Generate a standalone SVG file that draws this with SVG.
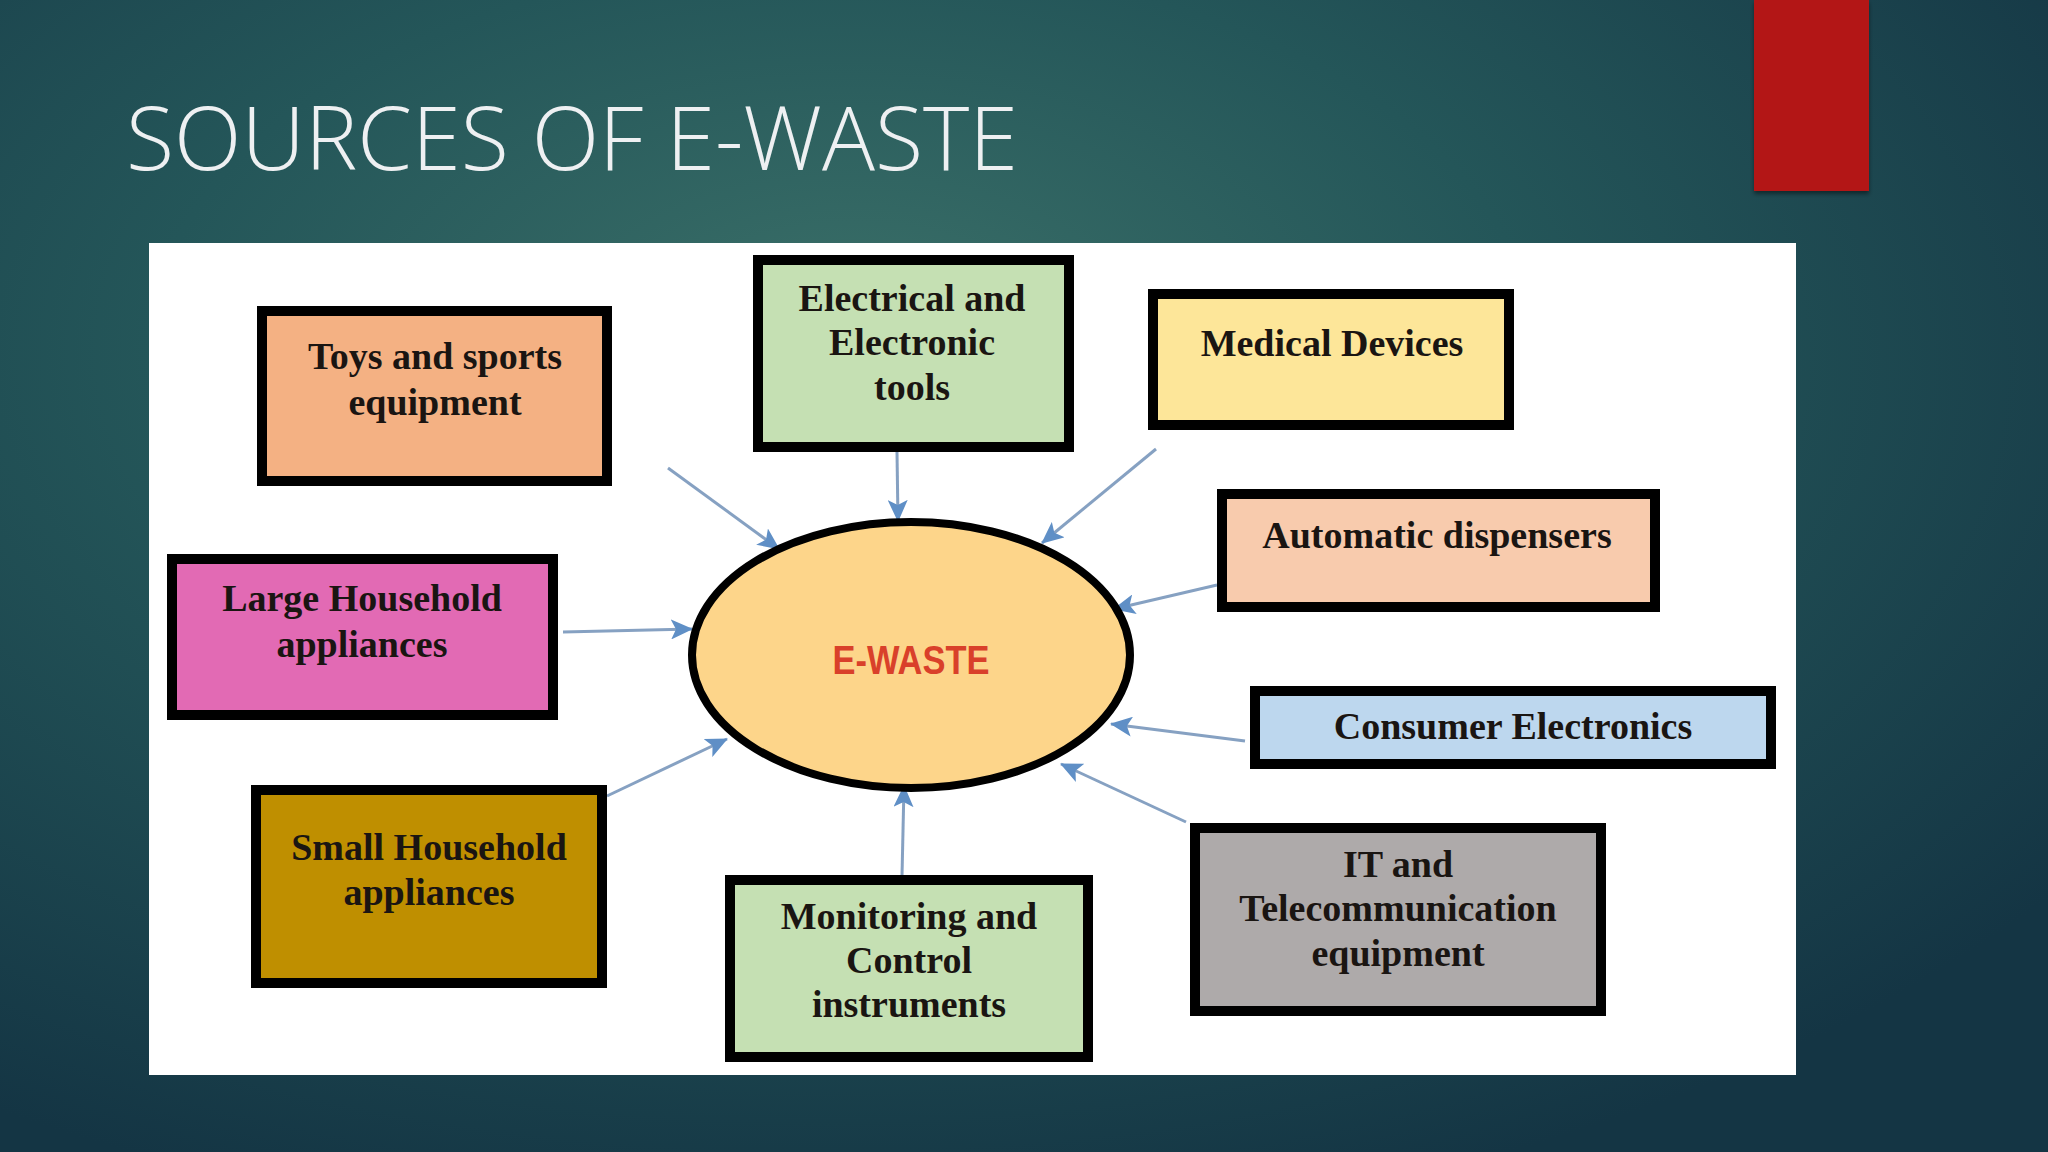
<svg xmlns="http://www.w3.org/2000/svg" width="2048" height="1152" viewBox="0 0 2048 1152">
  <defs>
    <radialGradient id="bg" cx="0.4" cy="0.33" r="0.75" fx="0.42" fy="0.28">
      <stop offset="0" stop-color="#3a6f68"/>
      <stop offset="0.45" stop-color="#245659"/>
      <stop offset="1" stop-color="#143544"/>
    </radialGradient>
    <filter id="shadow" x="-10%" y="-10%" width="120%" height="130%">
      <feDropShadow dx="0" dy="3" stdDeviation="2" flood-color="#000" flood-opacity="0.45"/>
    </filter>
    <marker id="arrow" markerUnits="userSpaceOnUse" markerWidth="24" markerHeight="20" refX="21" refY="10" orient="auto">
      <path d="M0,0 L22,10 L0,20 L5,10 z" fill="#5f8fc6"/>
    </marker>
    <style>
      .box { stroke: #000; stroke-width: 10; }
      .lbl { font-family: "Liberation Serif", "Times New Roman", serif; font-weight: bold; font-size: 38px; fill: #1a1512; text-anchor: middle; }
      .conn { stroke: #86a1c2; stroke-width: 3; fill: none; marker-end: url(#arrow); }
    </style>
  </defs>

  <rect x="0" y="0" width="2048" height="1152" fill="url(#bg)"/>

  <rect x="1754" y="0" width="115" height="191" fill="#b31613" filter="url(#shadow)"/>

  <text x="126" y="170" font-family="'Open Sans', 'Noto Sans', sans-serif" font-weight="300" font-size="88" fill="#eef0f2" textLength="892" lengthAdjust="spacingAndGlyphs">SOURCES OF E-WASTE</text>

  <rect x="149" y="243" width="1647" height="832" fill="#ffffff"/>

  <g id="connectors">
    <line class="conn" x1="668" y1="468" x2="779" y2="549"/>
    <line class="conn" x1="897" y1="452" x2="898" y2="521"/>
    <line class="conn" x1="1156" y1="449" x2="1042" y2="543"/>
    <line class="conn" x1="1217" y1="585" x2="1114" y2="609"/>
    <line class="conn" x1="1245" y1="741" x2="1111" y2="724"/>
    <line class="conn" x1="1186" y1="822" x2="1061" y2="764"/>
    <line class="conn" x1="902" y1="876" x2="904" y2="786"/>
    <line class="conn" x1="607" y1="796" x2="727" y2="739"/>
    <line class="conn" x1="563" y1="632" x2="692" y2="629"/>
  </g>

  <g id="ewaste">
    <ellipse cx="911" cy="655" rx="219" ry="133" fill="#fdd58a" stroke="#000" stroke-width="8"/>
    <text x="911" y="674" font-family="'Liberation Sans', Arial, sans-serif" font-weight="bold" font-size="40" fill="#d9402a" text-anchor="middle" textLength="157" lengthAdjust="spacingAndGlyphs">E-WASTE</text>
  </g>

  <g id="toys">
    <rect class="box" x="262" y="311" width="345" height="170" fill="#f4b183"/>
    <text class="lbl" x="435" y="369">Toys and sports</text>
    <text class="lbl" x="435" y="415">equipment</text>
  </g>

  <g id="electrical">
    <rect class="box" x="758" y="260" width="311" height="187" fill="#c5e0b3"/>
    <text class="lbl" x="912" y="311">Electrical and</text>
    <text class="lbl" x="912" y="355">Electronic</text>
    <text class="lbl" x="912" y="400">tools</text>
  </g>

  <g id="medical">
    <rect class="box" x="1153" y="294" width="356" height="131" fill="#fde699"/>
    <text class="lbl" x="1332" y="356">Medical Devices</text>
  </g>

  <g id="automatic">
    <rect class="box" x="1222" y="494" width="433" height="113" fill="#f8cbad"/>
    <text class="lbl" x="1437" y="548">Automatic dispensers</text>
  </g>

  <g id="consumer">
    <rect class="box" x="1255" y="691" width="516" height="73" fill="#bdd7ee"/>
    <text class="lbl" x="1513" y="739">Consumer Electronics</text>
  </g>

  <g id="it">
    <rect class="box" x="1195" y="828" width="406" height="183" fill="#aeaaaa"/>
    <text class="lbl" x="1398" y="877">IT and</text>
    <text class="lbl" x="1398" y="921">Telecommunication</text>
    <text class="lbl" x="1398" y="966">equipment</text>
  </g>

  <g id="monitoring">
    <rect class="box" x="730" y="880" width="358" height="177" fill="#c5e0b3"/>
    <text class="lbl" x="909" y="929">Monitoring and</text>
    <text class="lbl" x="909" y="973">Control</text>
    <text class="lbl" x="909" y="1017">instruments</text>
  </g>

  <g id="small">
    <rect class="box" x="256" y="790" width="346" height="193" fill="#bf8f00"/>
    <text class="lbl" x="429" y="860">Small Household</text>
    <text class="lbl" x="429" y="905">appliances</text>
  </g>

  <g id="large">
    <rect class="box" x="172" y="559" width="381" height="156" fill="#e26ab4"/>
    <text class="lbl" x="362" y="611">Large Household</text>
    <text class="lbl" x="362" y="657">appliances</text>
  </g>
</svg>
